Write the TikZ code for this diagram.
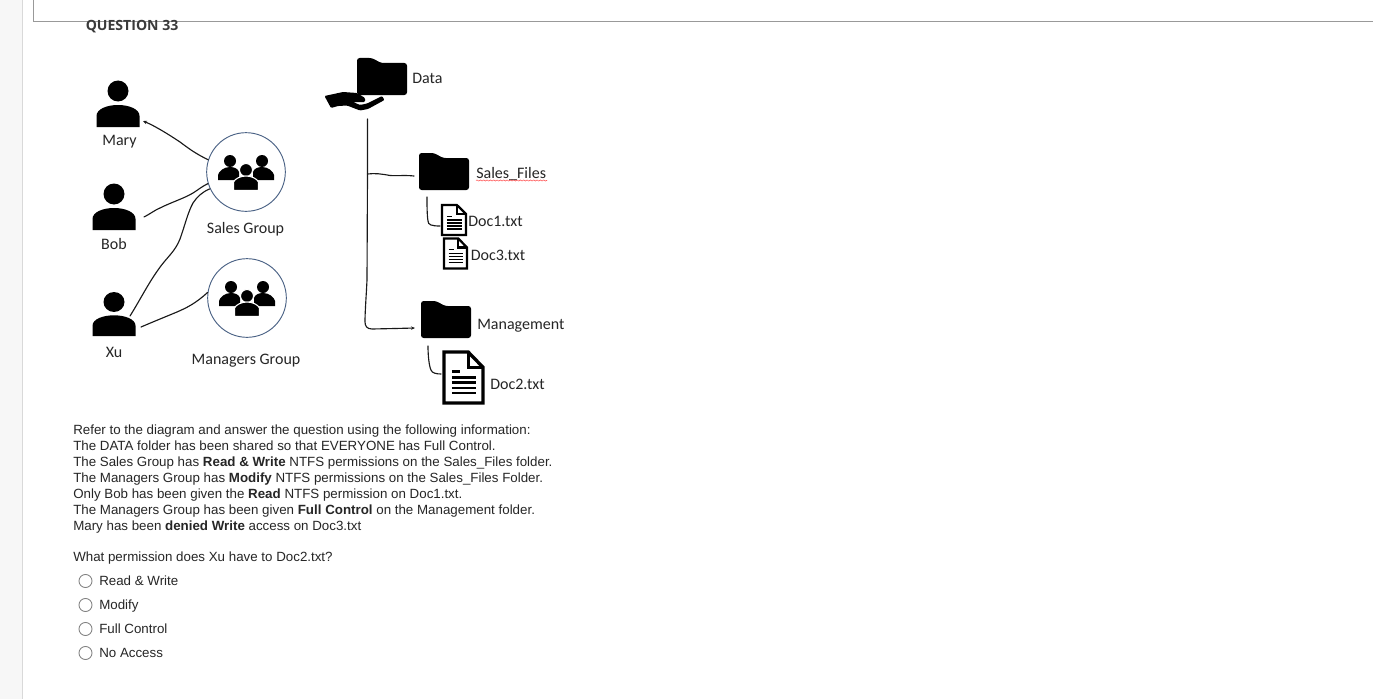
\documentclass[tikz,border=0pt]{standalone}
\usepackage{fontspec}
\setmainfont{Liberation Sans}
\newfontfamily\calfont{Carlito}
\newfontfamily\headfont{Open Sans}
\usetikzlibrary{arrows.meta, decorations.pathmorphing}
\definecolor{inkgray}{HTML}{262626}
\definecolor{headgray}{HTML}{3A3A3A}
\definecolor{ringblue}{HTML}{4A6285}
\tikzset{
  lab/.style={font=\calfont\fontsize{12}{14}\selectfont, text=inkgray, inner sep=0pt, text height=1.6ex, text depth=0.4ex},
  para/.style={font=\fontsize{10}{12}\selectfont, text=inkgray, inner sep=0pt, anchor=north west, align=left},
  optlab/.style={font=\fontsize{10}{12}\selectfont, text=inkgray, inner sep=0pt, anchor=west, text height=1.6ex, text depth=0.4ex},
  radio/.style={circle, draw=black!50, line width=0.65pt, fill=white, minimum size=9.8pt, inner sep=0pt},
  ring/.style={circle, draw=ringblue, line width=0.7pt, minimum size=59pt, inner sep=0pt},
  hand/.style={line width=0.85pt, black!90, line cap=round},
  docrule/.store in=\docrule, docrule=0.8pt,
  person/.pic={
    \fill (0,0) circle[radius=10.5];
    \fill (-21.5,36) -- (-21.5,25) .. controls (-21.5,18) and (-11,14) .. (0,14)
      .. controls (11,14) and (21.5,18) .. (21.5,25) -- (21.5,36) -- cycle;
  },
  crowd/.pic={
    \fill (-16,-11) circle[radius=6];
    \fill (16,-11) circle[radius=6];
    \fill (-28,8) -- (-28,3) .. controls (-27,-1) and (-22,-5) .. (-16,-5)
      .. controls (-11,-5) and (-8,-3) .. (-7,0) -- (-7,8) -- cycle;
    \fill (28,8) -- (28,3) .. controls (27,-1) and (22,-5) .. (16,-5)
      .. controls (11,-5) and (8,-3) .. (7,0) -- (7,8) -- cycle;
    \fill[draw=white, line width=0.8pt] (0,-2) circle[radius=6.5];
    \fill[draw=white, line width=0.8pt] (-12.5,18.5) -- (-12.5,10) .. controls (-11,6.5) and (-5,4) .. (0,4)
      .. controls (5,4) and (11,6.5) .. (12.5,10) -- (12.5,18.5) -- cycle;
  },
  folder/.pic={
    \fill[rounded corners=2pt] (0,37) -- (0,0) -- (15,0) -- (24,5) -- (50,5) -- (50,37) -- cycle;
  },
  docfile/.pic={
    \draw[fill=white, line join=miter] (0,0) -- (0.62,0) -- (1,0.3) -- (1,1) -- (0,1) -- cycle;
    \draw (0.62,0) -- (0.62,0.3) -- (1,0.3);
    \draw[line width=\docrule] (0.2,0.38) -- (0.42,0.38);
    \foreach \t in {0.5,0.6,0.7,0.8}
      \draw[line width=\docrule] (0.2,\t) -- (0.82,\t);
  }
}
\begin{document}
\begin{tikzpicture}[x=0.75pt, y=-0.75pt, >={Stealth[length=3pt,width=2.5pt]}]
  \useasboundingbox[fill=white] (0,0) rectangle (1373,699);
  % page frame
  \fill[black!3] (0,0) rectangle (22,699);
  \draw[black!15, line width=0.8pt] (22.5,0) -- (22.5,699);
  \draw[black!40, line width=0.6pt] (33.5,0) -- (33.5,21.5) -- (1373,21.5);
  \node[font=\headfont\bfseries\fontsize{10.55}{12}\selectfont, text=headgray, inner sep=0pt, anchor=west] (qhead) at (85.5,27) {QUESTION 33};

  % users
  \pic (mary) at (118,91) {person};
  \pic (bob) at (114,194) {person};
  \pic[yscale=0.95] (xu) at (114,302) {person};
  \node[lab] (marylab) at (119.5,141) {Mary};
  \node[lab] (boblab) at (114,245) {Bob};
  \node[lab] (xulab) at (114,353) {Xu};

  % groups
  \node[ring] (salesgrp) at (246,172) {};
  \node[ring] (mgrgrp) at (247,298) {};
  \pic at (salesgrp) {crowd};
  \pic at (mgrgrp) {crowd};
  \node[lab] (saleslab) at (245.5,229) {Sales Group};
  \node[lab] (mgrlab) at (246,360) {Managers Group};

  % hand drawn links
  \coordinate (maryend) at (143,121);
  \coordinate (bobend) at (144,217);
  \coordinate (xuend) at (130,316);
  \coordinate (xuendb) at (141,327);
  \draw[hand, ->] (salesgrp.162) .. controls (196,154) and (188,148) .. (180,142)
    .. controls (168,134) and (155,126) .. (maryend);
  \draw[hand] (bobend) .. controls (150,214) and (155,210) .. (160,208)
    .. controls (172,202) and (185,198) .. (193,193) .. controls (198,190) and (201,187) .. (salesgrp.197);
  \draw[hand] (xuend) .. controls (140,300) and (148,284) .. (158,270)
    .. controls (166,258) and (175,252) .. (180,239) .. controls (185,225) and (188,212) .. (193,203)
    .. controls (197,197) and (202,192) .. (salesgrp.205);
  \draw[hand] (xuendb) .. controls (155,321) and (165,317) .. (177,312)
    .. controls (186,308) and (195,304) .. (mgrgrp.172);

  % shared folder
  \fill[rounded corners=0.8pt] (324.5,96) -- (343,92) -- (357,93) -- (365,98) -- (365,102) -- (353,102)
    -- (360,105) -- (367,103.5) -- (382,96) -- (384.5,100) -- (368,109) -- (360,110.5) -- (347,105.5)
    -- (338,106) -- (331,108) -- cycle;
  \pic (datadir) at (357,58) {folder};
  \pic (salesdir) at (419,153) {folder};
  \pic (mgmtdir) at (421,301) {folder};
  \node[lab, anchor=west] (datalab) at (412,79.5) {Data};
  \node[lab, anchor=west] (saleslbl) at (476,174) {Sales\_Files};
  \node[lab, anchor=west] (mgmtlab) at (477,325) {Management};
  \draw[red!70!white, line width=0.4pt, decorate, decoration={snake, amplitude=0.4pt, segment length=2.5pt}] (476,180.5) -- (547,180.5);

  % files
  \pic[xscale=24, yscale=30, line width=1.7pt, docrule=0.8pt] (doca) at (442,205) {docfile};
  \pic[xscale=23, yscale=30, line width=1.7pt, docrule=0.8pt] (docc) at (444,238.5) {docfile};
  \pic[xscale=39, yscale=51, line width=2.5pt, docrule=1.8pt] (docb) at (444,352) {docfile};
  \node[lab, anchor=west] (docalab) at (468,222) {Doc1.txt};
  \node[lab, anchor=west] (docclab) at (470.5,256.5) {Doc3.txt};
  \node[lab, anchor=west] (docblab) at (490,385.5) {Doc2.txt};

  % tree
  \coordinate (treetop) at (367.5,119);
  \coordinate (treemid) at (367.5,174);
  \coordinate (salesin) at (414,176);
  \coordinate (mgmtin) at (415,328);
  \coordinate (salesout) at (427,197);
  \coordinate (doca in) at (440,226);
  \coordinate (mgmtout) at (428,346);
  \coordinate (docb in) at (441,374);
  \draw[hand] (treetop) -- (treemid) -- (367,280) .. controls (366,300) and (365,312) .. (365,322)
    .. controls (365,326) and (367,329) .. (372,329) -- (395,328.5);
  \draw[hand, ->] (395,328.5) -- (mgmtin);
  \draw[hand] (treemid) .. controls (375,173) and (382,174) .. (390,175.5) .. controls (398,176) and (405,175) .. (salesin);
  \draw[hand] (salesout) .. controls (427,205) and (427,215) .. (428,221) .. controls (428,225) and (432,226) .. (doca in);
  \draw[hand] (mgmtout) .. controls (428,355) and (429,366) .. (431,370) .. controls (432,373) and (436,374) .. (docb in);

  % question text
  \node[para] (infotext) at (73,424.5) {Refer to the diagram and answer the question using the following information:\\
    The DATA folder has been shared so that EVERYONE has Full Control.\\
    The Sales Group has \textbf{Read \& Write} NTFS permissions on the Sales\_Files folder.\\
    The Managers Group has \textbf{Modify} NTFS permissions on the Sales\_Files Folder.\\
    Only Bob has been given the \textbf{Read} NTFS permission on Doc1.txt.\\
    The Managers Group has been given \textbf{Full Control} on the Management folder.\\
    Mary has been \textbf{denied Write} access on Doc3.txt};
  \node[optlab] (asktext) at (73,557.5) {What permission does Xu have to Doc2.txt?};
  \foreach \y/\lab in {581/Read \& Write,605/Modify,629/Full Control,653/No Access}{
    \node[radio] (radio\y) at (85.5,\y) {};
    \node[optlab] (opt\y) at (99,\y) {\lab};
  }
\end{tikzpicture}
\end{document}
